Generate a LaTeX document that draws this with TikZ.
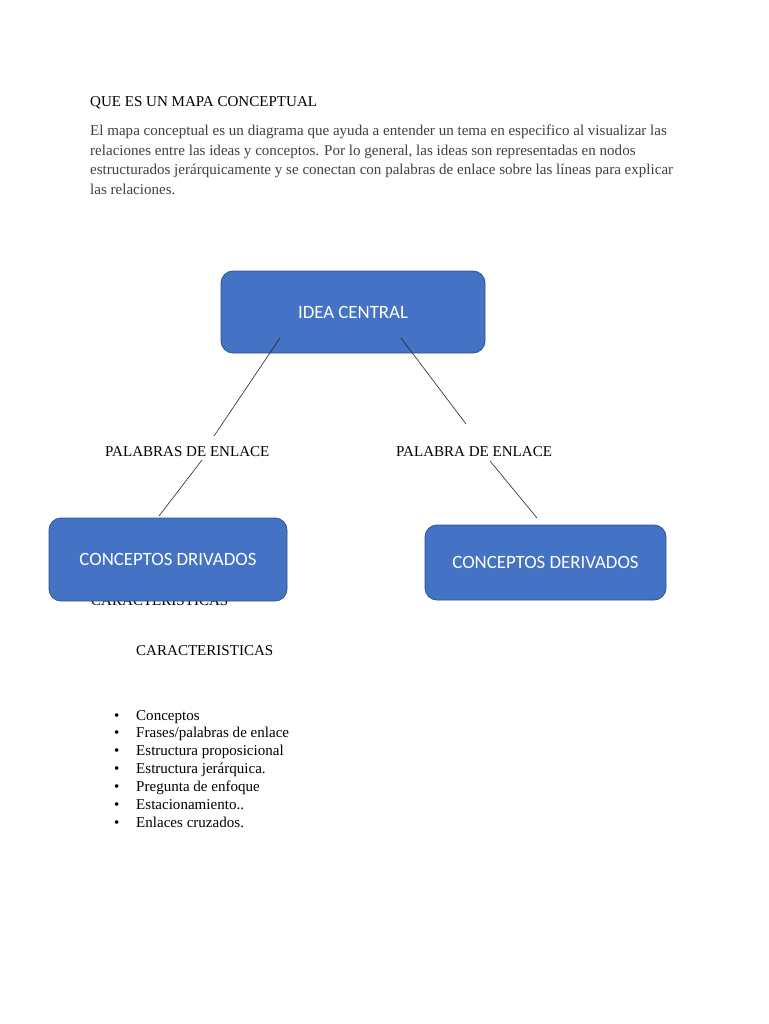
\documentclass[tikz,border=0pt]{standalone}
\usepackage{fontspec}
\setmainfont{Liberation Serif}
\newfontfamily\boxfont{Carlito}
\definecolor{boxblue}{RGB}{68,114,196}
\definecolor{boxedge}{RGB}{47,82,143}
\definecolor{bodygray}{RGB}{64,64,64}
\begin{document}
\begin{tikzpicture}[x=1pt,y=-1pt,
  txt/.style={anchor=base west,inner sep=0pt,font=\fontsize{15.05}{18}\selectfont},
  ptxt/.style={txt,text=bodygray},
  concept/.style={draw=boxedge,fill=boxblue,line width=0.8pt,rounded corners=12pt},
  ctext/.style={text=white,font=\boxfont\fontsize{18.8}{22}\selectfont,inner sep=0pt},
  link/.style={draw=black!85,line width=0.6pt}]
\useasboundingbox[fill=white] (0,0) rectangle (768,1024);
% heading and paragraph
\node[txt] (title) at (90,107) {QUE ES UN MAPA CONCEPTUAL};
\node[ptxt] (p1) at (90,136) {El mapa conceptual es un diagrama que ayuda a entender un tema en especifico al visualizar las};
\node[ptxt] (p2) at (90,156) {relaciones entre las ideas y conceptos. Por lo general, las ideas son representadas en nodos};
\node[ptxt] (p3) at (90,175) {estructurados jerárquicamente y se conectan con palabras de enlace sobre las líneas para explicar};
\node[ptxt] (p4) at (90,195) {las relaciones.};
% hidden text behind left box
\node[txt] (hidden) at (91,605) {CARACTERISTICAS};
% boxes
\path[concept] (221,271) rectangle (485,353);
\node[ctext] (idea) at (353,312) {IDEA CENTRAL};
\path[concept] (49,518) rectangle (287,601);
\node[ctext] (left) at (168,559.5) {CONCEPTOS DRIVADOS};
\path[concept] (425,525) rectangle (666,600);
\node[ctext] (right) at (545.5,562.5) {CONCEPTOS DERIVADOS};
% link words
\node[txt] (lw1) at (105,456) {PALABRAS DE ENLACE};
\node[txt] (lw2) at (396,456) {PALABRA DE ENLACE};
% connectors
\coordinate (a1) at (280,338); \coordinate (a2) at (214,436);
\coordinate (b1) at (401,338); \coordinate (b2) at (466,424);
\coordinate (c1) at (202,460); \coordinate (c2) at (159,516);
\coordinate (d1) at (490,461); \coordinate (d2) at (537,518);
\draw[link] (a1) -- (a2);
\draw[link] (b1) -- (b2);
\draw[link] (c1) -- (c2);
\draw[link] (d1) -- (d2);
% characteristics
\node[txt] (car) at (136,655) {CARACTERISTICAS};
\foreach \t [count=\i] in {Conceptos,Frases/palabras de enlace,Estructura proposicional,Estructura jerárquica.,Pregunta de enfoque,Estacionamiento..,Enlaces cruzados.}{
  \pgfmathsetmacro{\yy}{720+17.9*(\i-1)}
  \node[txt] (b\i) at (114,\yy) {•};
  \node[txt] (t\i) at (136,\yy) {\t};
}
\end{tikzpicture}
\end{document}
